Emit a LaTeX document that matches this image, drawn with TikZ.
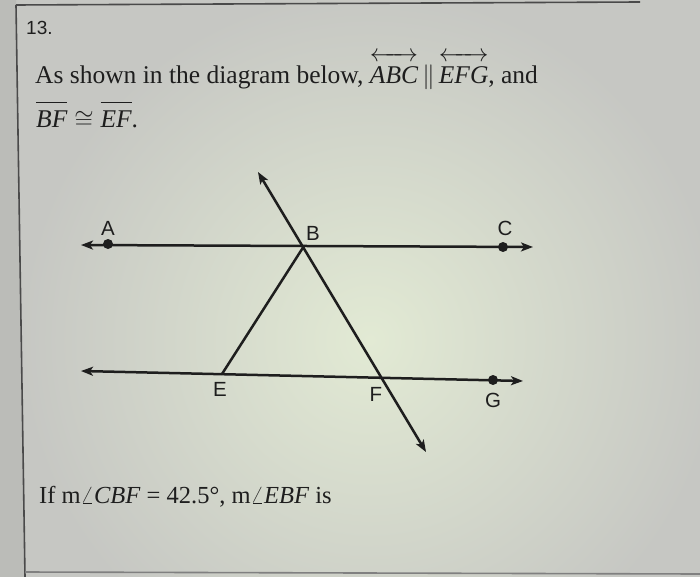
\documentclass[tikz,border=0pt]{standalone}
\usepackage{amsmath}
\usepackage{fontspec}
\setmainfont{Liberation Serif}
\newfontfamily\lsans{Liberation Sans}
\usetikzlibrary{arrows.meta}
\definecolor{ink}{HTML}{1E1E1E}
\definecolor{paper}{HTML}{C6C7C3}
\definecolor{glow}{HTML}{E2EAD4}
\definecolor{framec}{HTML}{4A4A4A}
\newcommand{\tallstrut}{\rule{0pt}{0.88em}}
\tikzset{
  tip/.tip={Stealth[length=12pt,width=9pt,inset=3pt]},
  ray/.style={line width=2.5pt, draw=ink, line cap=butt},
  seg/.style={line width=2.5pt, draw=ink, line cap=round},
  dot/.style={circle, fill=ink, inner sep=0pt, minimum size=10pt},
  lab/.style={font=\lsans\fontsize{20.5}{24}\selectfont, text=ink, inner sep=0pt},
  txt/.style={font=\fontsize{25.5}{30}\selectfont, text=ink, inner sep=0pt, anchor=base west},
  txtb/.style={font=\fontsize{24.5}{30}\selectfont, text=ink, inner sep=0pt, anchor=base west},
  num/.style={font=\lsans\fontsize{19}{22}\selectfont, text=ink, inner sep=0pt, anchor=base west},
  framel/.style={line width=1.6pt, draw=framec}
}
\begin{document}
\begin{tikzpicture}[x=1pt,y=-1pt]
\useasboundingbox (0,0) rectangle (700,577);
% background
\fill[paper] (0,0) rectangle (700,577);
\shade[inner color=glow, outer color=paper] (370,340) circle (350);
\fill[paper!85!black, opacity=0.35] (0,0) -- (16,0) -- (25,577) -- (0,577) -- cycle;
% frame
\draw[framel] (16,5) -- (640,2);
\draw[framel] (16,5) -- (25,577);
\draw[framel, draw=framec!70] (25,572) -- (700,574);
% texts
\node[num] (n13) at (26,35) {13.};
\node[txt] (t1) at (35,84) {As shown in the diagram below, $\overleftrightarrow{\tallstrut\textit{ABC}}\,\|\,\overleftrightarrow{\tallstrut\textit{EFG}}$, and};
\node[txt] (t2) at (36,128) {$\overline{\tallstrut\textit{BF}}\cong\overline{\tallstrut\textit{EF}}$.};
\node[txtb] (t3) at (39,503) {If m$\angle$\textit{CBF} = 42.5°, m$\angle$\textit{EBF} is};
% points
\coordinate (L1) at (81,245);
\coordinate (R1) at (533,247);
\coordinate (L2) at (81,371);
\coordinate (R2) at (523,381);
\coordinate (T) at (258,172);
\coordinate (U) at (426,452);
\coordinate (B) at (304,246);
\coordinate (E) at (222,374);
\coordinate (F) at (382,378);
\node[dot] (A) at (108,244) {};
\node[dot] (C) at (503,247) {};
\node[dot] (G) at (493,380) {};
% lines
\draw[ray, tip-tip] (L1) -- (R1);
\draw[ray, tip-tip] (L2) -- (R2);
\draw[ray, tip-tip] (T) -- (U);
\draw[seg] (E) -- (B);
% labels
\node[lab] (lA) at (108,228) {A};
\node[lab] (lB) at (313,233) {B};
\node[lab] (lC) at (505,228) {C};
\node[lab] (lE) at (220,389) {E};
\node[lab] (lF) at (376,394) {F};
\node[lab] (lG) at (493,400) {G};
\end{tikzpicture}
\end{document}
